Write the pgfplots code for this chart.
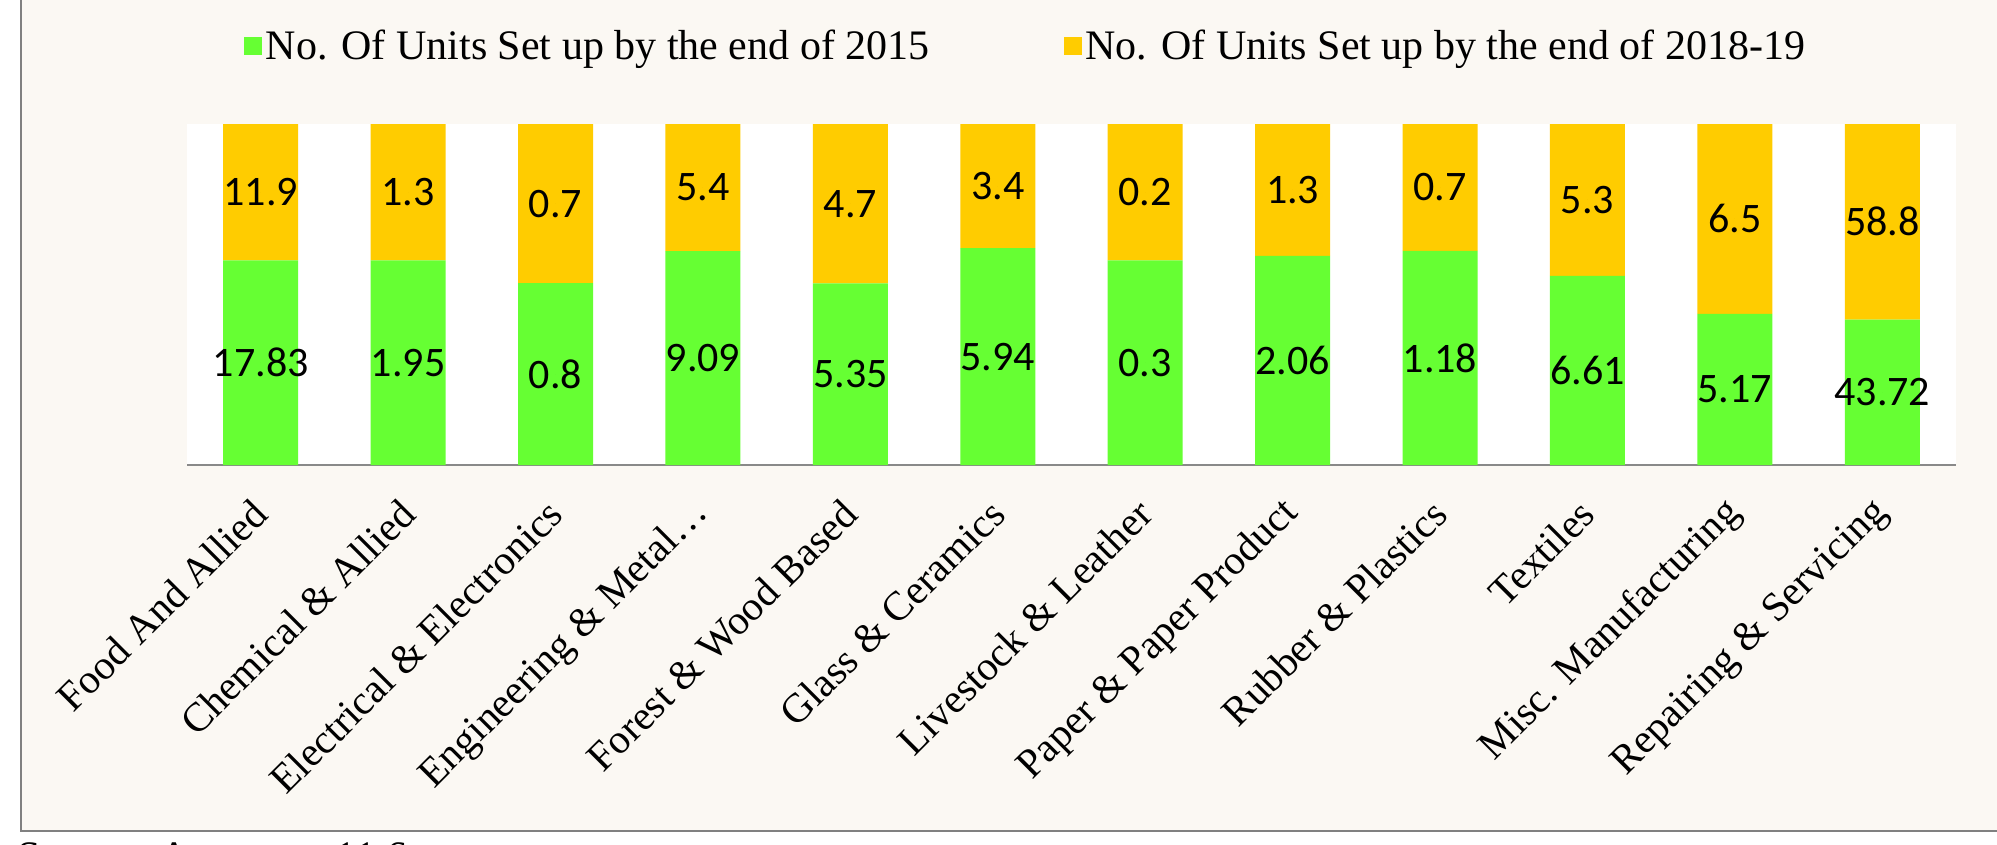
\documentclass[border=0pt]{standalone}
\usepackage{fontspec}
\setmainfont{Liberation Serif}
\newfontfamily\calibri{Carlito}
\usepackage{pgfplots}
\usepackage{pgfplotstable}
\pgfplotsset{compat=1.18}
\definecolor{barGreen}{RGB}{102,255,51}
\definecolor{barYellow}{RGB}{255,204,0}
\definecolor{bgBeige}{RGB}{251,248,243}
\definecolor{axGray}{RGB}{137,137,137}
\definecolor{frameGray}{RGB}{128,128,128}

\pgfplotstableread{
x a b
0 17.83 11.9
1 1.95 1.3
2 0.8 0.7
3 9.09 5.4
4 5.35 4.7
5 5.94 3.4
6 0.3 0.2
7 2.06 1.3
8 1.18 0.7
9 6.61 5.3
10 5.17 6.5
11 43.72 58.8
}\units

\pgfplotsset{
  common/.style={
    at={(93.5pt,-232.5pt)}, anchor=south west,
    scale only axis, width=884.5pt, height=170.5pt,
    xmin=-0.5, xmax=11.5, ymin=0, ymax=100,
  }
}

\begin{document}
\begin{tikzpicture}
\useasboundingbox (0,0) rectangle (998.5pt,-422.5pt);
\fill[white] (0,0) rectangle (998.5pt,-422.5pt);
\fill[bgBeige] (10.5pt,5pt) rectangle (1005pt,-415.5pt);
\draw[frameGray, line width=1pt] (10.5pt,5pt) -- (10.5pt,-415.5pt) -- (1005pt,-415.5pt);
\node[anchor=base west, inner sep=0pt, font=\fontsize{21}{24}\selectfont] at (8.5pt,-435pt) {Source: Annexure 11.6};

\begin{axis}[common,
  ybar stacked, bar width=37.5pt,
  axis background/.style={fill=white},
  axis x line*=bottom, axis y line=none,
  x axis line style={draw=axGray, line width=1.3pt},
  major tick length=0pt, ytick=\empty,
  xtick={0,...,11},
  xticklabels={Food And Allied, Chemical \& Allied, Electrical \& Electronics, Engineering \& Metal…, Forest \& Wood Based, Glass \& Ceramics, Livestock \& Leather, Paper \& Paper Product, Rubber \& Plastics, Textiles, Misc. Manufacturing, Repairing \& Servicing},
  xticklabel style={font=\fontsize{20.5}{24}\selectfont, inner sep=0pt, yshift=-21pt, xshift=0pt, rotate=45, anchor=east},
  legend columns=2,
  legend image code/.code={\fill[#1] (0pt,-4.5pt) rectangle (9pt,4.5pt);},
  legend style={draw=none, fill=none, at={(axis description cs:0.0319,1.2287)}, anchor=west,
    font=\fontsize{21}{24}\selectfont, inner sep=0pt, nodes={inner sep=1pt},
    /tikz/every odd column/.append style={column sep=1pt},
    /tikz/every even column/.append style={column sep=66pt}},
]
\addplot[fill=barGreen, draw=none] table[x=x, y expr={\thisrow{a}/(\thisrow{a}+\thisrow{b})*100}] {\units};
\addlegendentry{No. Of Units Set up by the end of 2015}
\addplot[fill=barYellow, draw=none] table[x=x, y expr={\thisrow{b}/(\thisrow{a}+\thisrow{b})*100}] {\units};
\addlegendentry{No. Of Units Set up by the end of 2018-19}
\end{axis}

\begin{axis}[common, hide axis]
\addplot[only marks, mark=*, mark size=0pt, mark options={draw=none, fill=none},
  nodes near coords, point meta=explicit symbolic,
  every node near coord/.style={anchor=center, inner sep=0pt, font=\calibri\fontsize{21}{24}\selectfont, text=black}]
  table[x=x, y expr={\thisrow{a}/(\thisrow{a}+\thisrow{b})*50}, meta=a] {\units};
\addplot[only marks, mark=*, mark size=0pt, mark options={draw=none, fill=none},
  nodes near coords, point meta=explicit symbolic,
  every node near coord/.style={anchor=center, inner sep=0pt, font=\calibri\fontsize{21}{24}\selectfont, text=black}]
  table[x=x, y expr={(\thisrow{a}+0.5*\thisrow{b})/(\thisrow{a}+\thisrow{b})*100}, meta=b] {\units};
\end{axis}
\end{tikzpicture}
\end{document}
